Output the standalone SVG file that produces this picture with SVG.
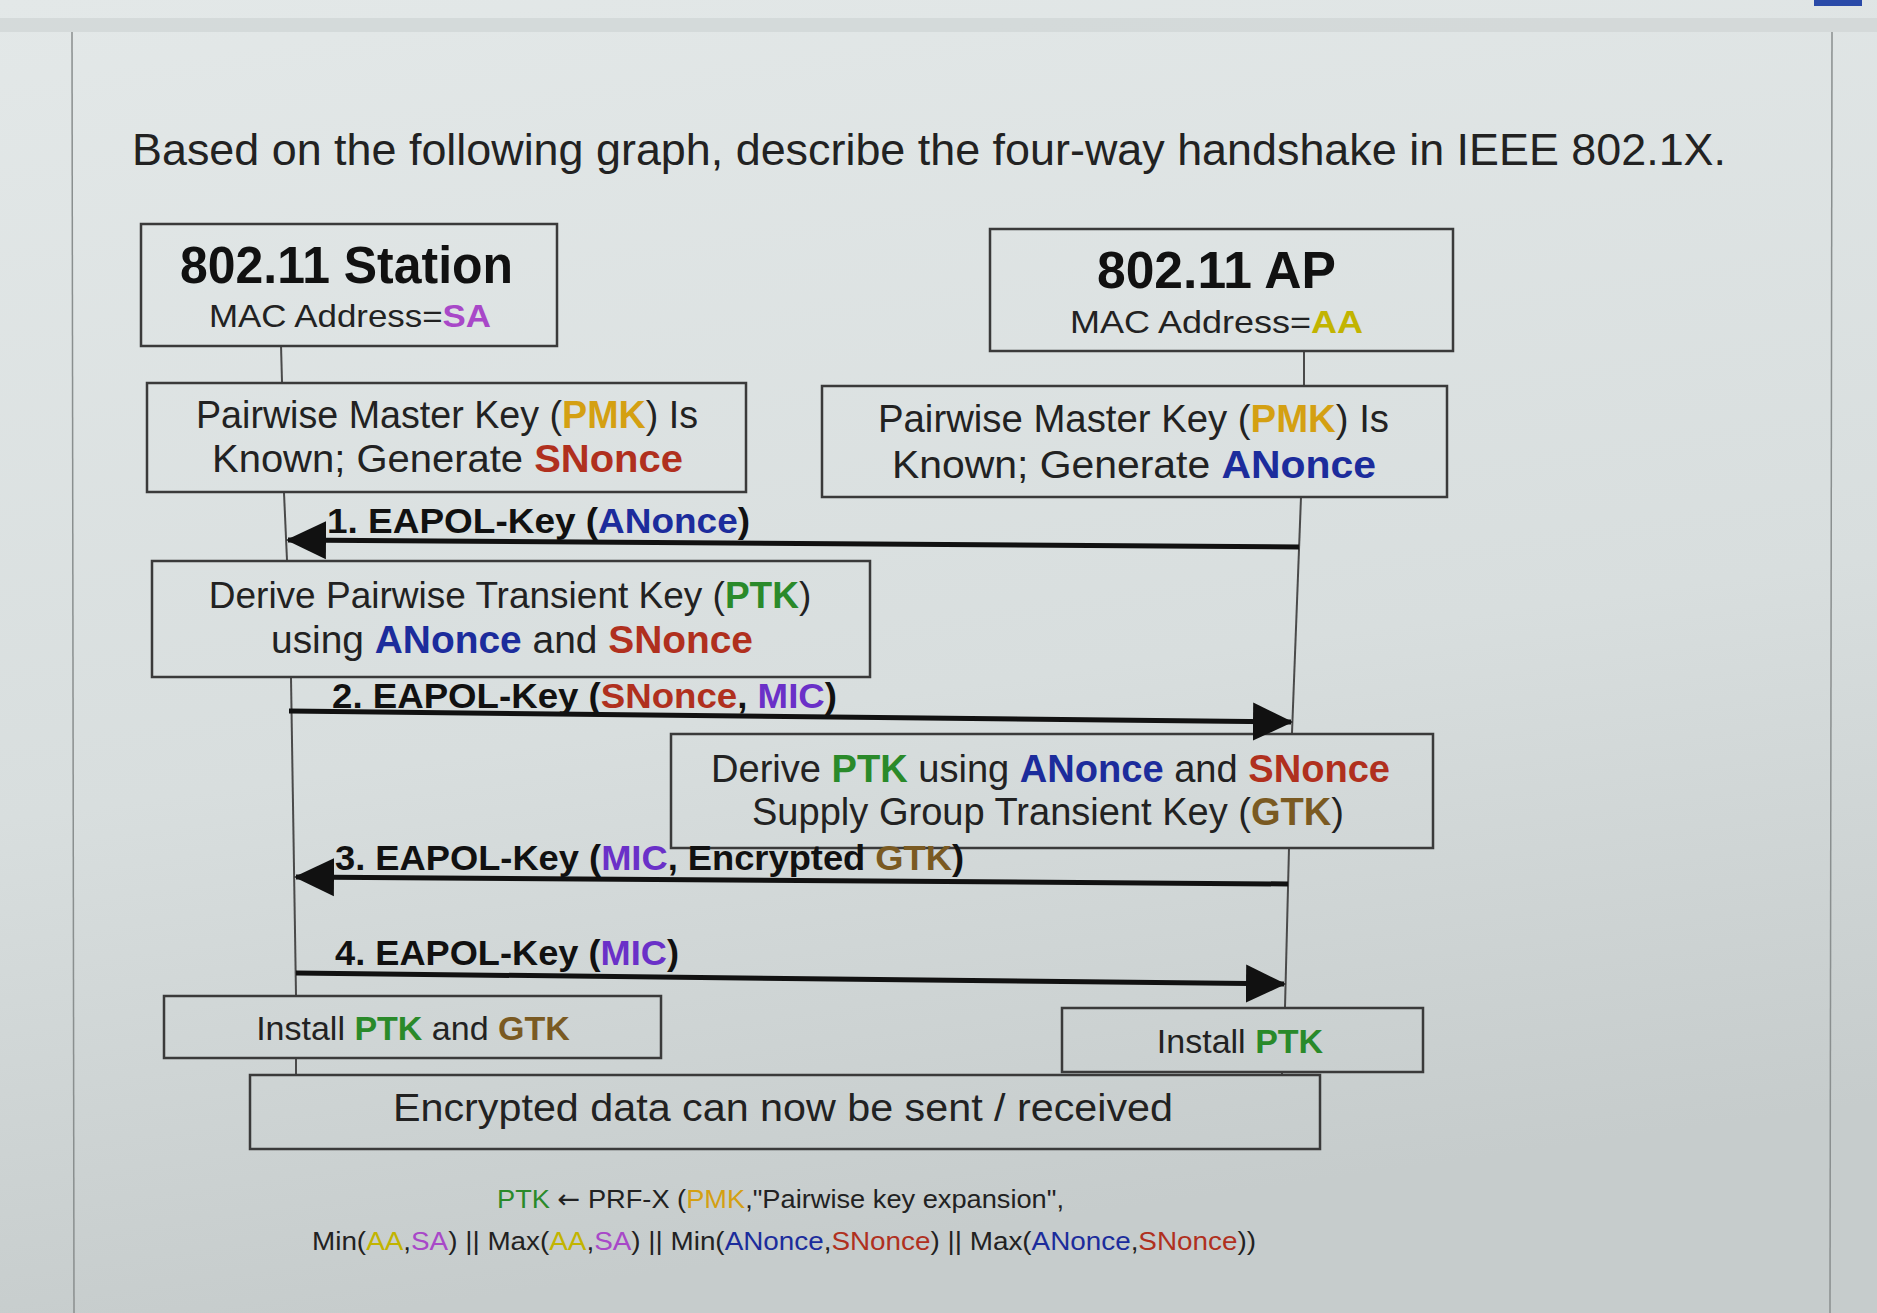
<svg xmlns="http://www.w3.org/2000/svg" width="1877" height="1313" viewBox="0 0 1877 1313">
<defs>
  <linearGradient id="bg" x1="0" y1="0" x2="0.2" y2="1">
    <stop offset="0" stop-color="#e3e8e8"/>
    <stop offset="0.6" stop-color="#d8dede"/>
    <stop offset="1" stop-color="#c6cccc"/>
  </linearGradient>
  <marker id="ah" markerUnits="userSpaceOnUse" markerWidth="40" markerHeight="40" viewBox="0 0 40 40" refX="38" refY="20" orient="auto">
    <path d="M0,1 L40,20 L0,39 Z" fill="#111"/>
  </marker>
  <style>
    .box{fill:none;stroke:#3a3a3a;stroke-width:2.5}
    .life{fill:none;stroke:#4a4a4a;stroke-width:2}
    .msg{fill:none;stroke:#111;stroke-width:5;marker-end:url(#ah)}
    .t{font-family:"Liberation Sans",Arial,sans-serif;fill:#222}
    .hd{font-weight:bold;font-size:51px;fill:#111}
    .mac{font-size:32px}
    .bx{font-size:38px}
    .lb{font-weight:bold;font-size:35px;fill:#111}
    .fm{font-size:26px}
    .b{font-weight:bold}
    .sa{fill:#a848c8}
    .aa{fill:#c2b400}
    .pmk{fill:#d4a012}
    .sn{fill:#b0301e}
    .an{fill:#1c2c9c}
    .ptk{fill:#2a8a2a}
    .mic{fill:#6a30c8}
    .gtk{fill:#7a5a22}
  </style>
</defs>
<rect x="0" y="0" width="1877" height="1313" fill="url(#bg)"/>
<rect x="0" y="18" width="1877" height="14" fill="#cfd4d4" opacity="0.7"/>
<rect x="1814" y="0" width="48" height="6" fill="#2a4aa8"/>
<line x1="72" y1="32" x2="74" y2="1313" stroke="#8a8f8f" stroke-width="1.5"/>
<line x1="1832" y1="32" x2="1830" y2="1313" stroke="#8a8f8f" stroke-width="1.5"/>

<text class="t" x="132" y="165" font-size="44" fill="#333" textLength="1594" lengthAdjust="spacingAndGlyphs">Based on the following graph, describe the four-way handshake in IEEE 802.1X.</text>

<g id="lifelines">
  <polyline class="life" points="281,345 282,382"/>
  <polyline class="life" points="284,493 287,560"/>
  <polyline class="life" points="291,678 296,995"/>
  <polyline class="life" points="296,1058 296,1075"/>
  <polyline class="life" points="1304,352 1304,385"/>
  <polyline class="life" points="1301,497 1292,733"/>
  <polyline class="life" points="1289,848 1285,1007"/>
  <polyline class="life" points="1282,1072 1282,1075"/>
</g>

<g id="station">
  <rect class="box" x="141" y="224" width="416" height="122"/>
  <text class="t hd" x="180" y="283" textLength="333" lengthAdjust="spacingAndGlyphs">802.11 Station</text>
  <text class="t mac" x="209" y="327" textLength="282" lengthAdjust="spacingAndGlyphs">MAC Address=<tspan class="sa b">SA</tspan></text>
</g>

<g id="ap">
  <rect class="box" x="990" y="229" width="463" height="122"/>
  <text class="t hd" x="1097" y="288" textLength="239" lengthAdjust="spacingAndGlyphs">802.11 AP</text>
  <text class="t mac" x="1070" y="333" textLength="293" lengthAdjust="spacingAndGlyphs">MAC Address=<tspan class="aa b">AA</tspan></text>
</g>

<g id="station-pmk">
  <rect class="box" x="147" y="383" width="599" height="109"/>
  <text class="t bx" x="196" y="428" textLength="502" lengthAdjust="spacingAndGlyphs">Pairwise Master Key (<tspan class="pmk b">PMK</tspan>) Is</text>
  <text class="t bx" x="212" y="472" textLength="471" lengthAdjust="spacingAndGlyphs">Known; Generate <tspan class="sn b">SNonce</tspan></text>
</g>

<g id="ap-pmk">
  <rect class="box" x="822" y="386" width="625" height="111"/>
  <text class="t bx" x="878" y="432" textLength="511" lengthAdjust="spacingAndGlyphs">Pairwise Master Key (<tspan class="pmk b">PMK</tspan>) Is</text>
  <text class="t bx" x="892" y="478" textLength="484" lengthAdjust="spacingAndGlyphs">Known; Generate <tspan class="an b">ANonce</tspan></text>
</g>

<g id="station-ptk">
  <rect class="box" x="152" y="561" width="718" height="116"/>
  <text class="t" x="510" y="608" font-size="37" text-anchor="middle">Derive Pairwise Transient Key (<tspan class="ptk b">PTK</tspan>)</text>
  <text class="t bx" x="271" y="653" textLength="482" lengthAdjust="spacingAndGlyphs">using <tspan class="an b">ANonce</tspan> and <tspan class="sn b">SNonce</tspan></text>
</g>

<g id="ap-ptk">
  <rect class="box" x="671" y="734" width="762" height="114"/>
  <text class="t bx" x="711" y="782" textLength="679" lengthAdjust="spacingAndGlyphs">Derive <tspan class="ptk b">PTK</tspan> using <tspan class="an b">ANonce</tspan> and <tspan class="sn b">SNonce</tspan></text>
  <text class="t bx" x="752" y="825" textLength="592" lengthAdjust="spacingAndGlyphs">Supply Group Transient Key (<tspan class="gtk b">GTK</tspan>)</text>
</g>

<g id="station-install">
  <rect class="box" x="164" y="996" width="497" height="62"/>
  <text class="t" x="413" y="1040" font-size="34" text-anchor="middle">Install <tspan class="ptk b">PTK</tspan> and <tspan class="gtk b">GTK</tspan></text>
</g>

<g id="ap-install">
  <rect class="box" x="1062" y="1008" width="361" height="64"/>
  <text class="t" x="1240" y="1053" font-size="34" text-anchor="middle">Install <tspan class="ptk b">PTK</tspan></text>
</g>

<g id="encrypted">
  <rect class="box" x="250" y="1075" width="1070" height="74"/>
  <text class="t bx" x="393" y="1121" textLength="780" lengthAdjust="spacingAndGlyphs">Encrypted data can now be sent / received</text>
</g>

<g id="connectors">
  <line class="msg" x1="1299" y1="547" x2="288" y2="540"/>
  <text class="t lb" x="327" y="533" textLength="423" lengthAdjust="spacingAndGlyphs">1. EAPOL-Key (<tspan class="an">ANonce</tspan>)</text>
  <line class="msg" x1="289" y1="711" x2="1291" y2="722"/>
  <text class="t lb" x="332" y="708" textLength="505" lengthAdjust="spacingAndGlyphs">2. EAPOL-Key (<tspan class="sn">SNonce</tspan>, <tspan class="mic">MIC</tspan>)</text>
  <line class="msg" x1="1288" y1="884" x2="296" y2="877"/>
  <text class="t lb" x="335" y="870" textLength="629" lengthAdjust="spacingAndGlyphs">3. EAPOL-Key (<tspan class="mic">MIC</tspan>, Encrypted <tspan class="gtk">GTK</tspan>)</text>
  <line class="msg" x1="296" y1="973" x2="1284" y2="984"/>
  <text class="t lb" x="335" y="965" textLength="344" lengthAdjust="spacingAndGlyphs">4. EAPOL-Key (<tspan class="mic">MIC</tspan>)</text>
</g>

<g id="formula">
  <text class="t fm" x="497" y="1208" textLength="567" lengthAdjust="spacingAndGlyphs"><tspan class="ptk">PTK</tspan> <tspan font-family="DejaVu Sans, sans-serif">←</tspan> PRF-X (<tspan class="pmk">PMK</tspan>,"Pairwise key expansion",</text>
  <text class="t fm" x="312" y="1250" textLength="944" lengthAdjust="spacingAndGlyphs">Min(<tspan class="aa">AA</tspan>,<tspan class="sa">SA</tspan>) || Max(<tspan class="aa">AA</tspan>,<tspan class="sa">SA</tspan>) || Min(<tspan class="an">ANonce</tspan>,<tspan class="sn">SNonce</tspan>) || Max(<tspan class="an">ANonce</tspan>,<tspan class="sn">SNonce</tspan>))</text>
</g>
</svg>
